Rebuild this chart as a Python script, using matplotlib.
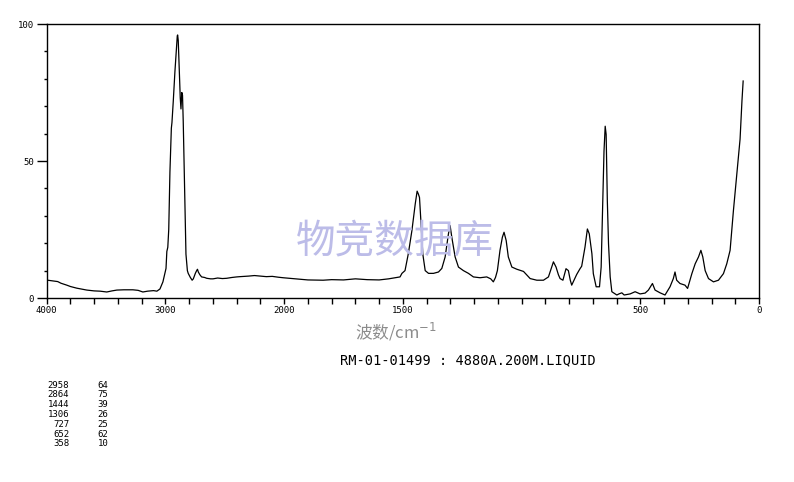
import numpy as np
import matplotlib.pyplot as plt

# spectrum: wavenumber (cm-1), intensity
wavenumber = [4000, 3992, 3960, 3907, 3880, 3831, 3800, 3747, 3700, 3662, 3600, 3550, 3494, 3450, 3409,
              3350, 3274, 3230, 3190, 3150, 3100, 3072, 3046, 3021, 2995, 2988, 2980, 2972, 2962, 2950,
              2945, 2934, 2920, 2906, 2900, 2897, 2892, 2884, 2875, 2869, 2862, 2856, 2850, 2843, 2835,
              2827, 2815, 2808, 2790, 2775, 2765, 2748, 2737, 2730, 2723, 2710, 2695, 2670, 2652, 2620,
              2599, 2560, 2520, 2484, 2440, 2400, 2371, 2300, 2250, 2200, 2150, 2100, 2050, 2008, 1950,
              1900, 1836, 1800, 1750, 1700, 1650, 1600, 1560, 1524, 1512, 1504, 1491, 1477, 1462, 1448,
              1440, 1435, 1430, 1424, 1416, 1406, 1392, 1371, 1350, 1336, 1322, 1308, 1301, 1294, 1280,
              1266, 1245, 1224, 1203, 1175, 1147, 1130, 1119, 1110, 1102, 1091, 1081, 1074, 1065, 1056,
              1041, 1020, 992, 964, 936, 908, 887, 873, 866, 855, 845, 838, 826, 813, 803,
              795, 789, 768, 754, 747, 733, 723, 715, 704, 698, 686, 672, 665, 658, 653,
              648, 644, 639, 634, 627, 620, 599, 590, 578, 568, 543, 522, 501, 480, 466,
              449, 438, 417, 396, 375, 361, 354, 347, 333, 312, 301, 283, 269, 255, 245,
              237, 227, 213, 192, 171, 150, 136, 122, 108, 94, 80, 72, 67]
intensity = [6.5, 6.5, 6.3, 6.0, 5.4, 4.7, 4.2, 3.6, 3.2, 2.9, 2.6, 2.5, 2.2, 2.6, 2.9,
             3.0, 3.0, 2.8, 2.2, 2.5, 2.7, 2.5, 3.3, 5.9, 10.8, 17.0, 18.5, 25.0, 46.0, 62.0,
             64.0, 71.7, 82.6, 92.0, 95.7, 96.0, 94.0, 83.8, 73.0, 69.0, 75.0, 74.0, 64.5, 50.0, 34.0,
             16.0, 10.0, 9.0, 7.5, 6.5, 7.0, 9.0, 10.0, 10.5, 9.5, 8.5, 7.7, 7.5, 7.2, 7.0,
             7.0, 7.3, 7.1, 7.2, 7.5, 7.7, 7.8, 8.0, 8.2, 8.0, 7.8, 7.9, 7.6, 7.4, 7.0,
             6.6, 6.5, 6.7, 6.6, 7.0, 6.7, 6.6, 7.0, 7.5, 7.7, 9.0, 10.0, 16.2, 24.6, 34.3,
             39.0, 38.0, 36.7, 28.0, 16.0, 10.0, 9.0, 9.0, 9.5, 10.8, 15.0, 23.5, 26.4, 22.2, 15.0,
             11.3, 10.0, 9.0, 7.7, 7.4, 7.7, 7.0, 5.9, 7.5, 10.0, 17.4, 22.2, 24.0, 21.0, 15.0,
             11.3, 10.5, 9.7, 7.1, 6.5, 6.5, 7.7, 11.3, 13.2, 11.3, 8.5, 7.1, 6.5, 10.7, 10.0,
             6.5, 4.7, 8.6, 10.7, 11.6, 18.6, 25.2, 23.4, 16.2, 8.9, 4.1, 4.1, 11.3, 35.5, 53.6,
             62.7, 59.7, 35.5, 19.8, 7.7, 2.3, 1.1, 1.5, 1.9, 1.1, 1.5, 2.3, 1.5, 1.8, 2.9,
             5.3, 2.9, 1.9, 1.1, 4.1, 7.1, 9.5, 6.5, 5.3, 4.7, 3.5, 8.9, 12.5, 15.0, 17.4,
             15.0, 10.0, 7.1, 5.9, 6.5, 8.9, 12.5, 17.4, 31.9, 45.0, 58.0, 72.0, 79.2]

tick_values = [4000, 3000, 2000, 1500, 500, 0]
tick_labels = ['4000', '3000', '2000', '1500', '500', '0']

peak_positions = ['2958', '2864', '1444', '1306', '727', '652', '358']
peak_heights = ['64', '75', '39', '26', '25', '62', '10']

sample_id = 'RM-01-01499 : 4880A.200M.LIQUID'
watermark = '物竞数据库'


def forward(x):
    x = np.asarray(x, dtype=float)
    return np.where(x > 2000, 2000 + (x - 2000) / 2, x)


def inverse(p):
    p = np.asarray(p, dtype=float)
    return np.where(p > 2000, 2000 + (p - 2000) * 2, p)


fig = plt.figure(figsize=(7.94, 4.82), dpi=100)
ax = fig.add_axes([0.0588, 0.3817, 0.8972, 0.5685])
ax.plot(wavenumber, intensity, color='black', linewidth=0.9)

ax.set_xscale('function', functions=(forward, inverse))
ax.set_xlim(4000, 0)
ax.set_ylim(0, 100)

mono = 'DejaVu Sans Mono'
all_ticks = list(range(4000, 2000, -200)) + list(range(2000, -1, -100))
ax.set_xticks(all_ticks)
ax.set_xticklabels([tick_labels[tick_values.index(t)] if t in tick_values else '' for t in all_ticks],
                   fontfamily=mono, fontsize=6.5)
ax.xaxis.set_minor_locator(plt.NullLocator())
ax.tick_params(axis='x', direction='out', length=4, width=1, pad=2)

ax.set_yticks([0, 50, 100])
ax.set_yticklabels(['0', '50', '100'], fontfamily=mono, fontsize=6.5)
ax.set_yticks(np.arange(0, 101, 10), minor=True)
ax.tick_params(axis='y', which='major', direction='out', length=7, width=1, pad=2)
ax.tick_params(axis='y', which='minor', direction='out', length=2, width=1)

for s in ax.spines.values():
    s.set_linewidth(1)

fig.text(0.498, 0.500, watermark, fontsize=28.5, color='#bcbce8', ha='center', va='center',
         family=['Noto Sans CJK SC', 'DejaVu Sans'])

fig.text(0.447, 0.311, '波数/cm$^{-1}$', fontsize=12, color='#8c8c8c', ha='left', va='center',
         family=['Noto Sans CJK SC', 'DejaVu Sans'])

fig.text(0.428, 0.253, sample_id, fontsize=9.8, fontfamily=mono, ha='left', va='center')

for i in range(len(peak_positions)):
    y = 0.201 - i * 0.0203
    fig.text(0.087, y, peak_positions[i], fontsize=6.5, fontfamily=mono, ha='right', va='center')
    fig.text(0.123, y, peak_heights[i], fontsize=6.5, fontfamily=mono, ha='left', va='center')

plt.savefig('out.png', dpi=100)
